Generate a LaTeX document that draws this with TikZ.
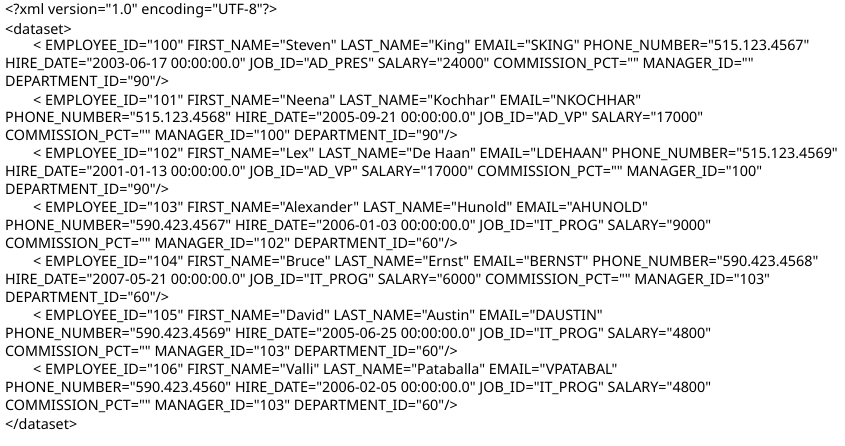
\documentclass[tikz,border=0pt]{standalone}
\usepackage{fontspec}
\setmainfont{Noto Sans}[Ligatures=TeXOff]
\begin{document}
\begin{tikzpicture}[x=1pt,y=-1pt,ln/.style={anchor=west,inner sep=0pt,font=\fontsize{14.35}{16}\selectfont}]
\useasboundingbox[fill=white] (0,0) rectangle (845,446);
\def\L#1#2#3{\node[ln] (n#1) at (#2,{11+17.96*#1}) {#3};}
\L{0}{5}{<?xml version="1.0" encoding="UTF-8"?>}
\L{1}{5}{<dataset>}
\L{2}{33}{< EMPLOYEE\_ID="100" FIRST\_NAME="Steven" LAST\_NAME="King" EMAIL="SKING" PHONE\_NUMBER="515.123.4567"}
\L{3}{5}{HIRE\_DATE="2003-06-17 00:00:00.0" JOB\_ID="AD\_PRES" SALARY="24000" COMMISSION\_PCT="" MANAGER\_ID=""}
\L{4}{5}{DEPARTMENT\_ID="90"/>}
\L{5}{33}{< EMPLOYEE\_ID="101" FIRST\_NAME="Neena" LAST\_NAME="Kochhar" EMAIL="NKOCHHAR"}
\L{6}{5}{PHONE\_NUMBER="515.123.4568" HIRE\_DATE="2005-09-21 00:00:00.0" JOB\_ID="AD\_VP" SALARY="17000"}
\L{7}{5}{COMMISSION\_PCT="" MANAGER\_ID="100" DEPARTMENT\_ID="90"/>}
\L{8}{33}{< EMPLOYEE\_ID="102" FIRST\_NAME="Lex" LAST\_NAME="De Haan" EMAIL="LDEHAAN" PHONE\_NUMBER="515.123.4569"}
\L{9}{5}{HIRE\_DATE="2001-01-13 00:00:00.0" JOB\_ID="AD\_VP" SALARY="17000" COMMISSION\_PCT="" MANAGER\_ID="100"}
\L{10}{5}{DEPARTMENT\_ID="90"/>}
\L{11}{33}{< EMPLOYEE\_ID="103" FIRST\_NAME="Alexander" LAST\_NAME="Hunold" EMAIL="AHUNOLD"}
\L{12}{5}{PHONE\_NUMBER="590.423.4567" HIRE\_DATE="2006-01-03 00:00:00.0" JOB\_ID="IT\_PROG" SALARY="9000"}
\L{13}{5}{COMMISSION\_PCT="" MANAGER\_ID="102" DEPARTMENT\_ID="60"/>}
\L{14}{33}{< EMPLOYEE\_ID="104" FIRST\_NAME="Bruce" LAST\_NAME="Ernst" EMAIL="BERNST" PHONE\_NUMBER="590.423.4568"}
\L{15}{5}{HIRE\_DATE="2007-05-21 00:00:00.0" JOB\_ID="IT\_PROG" SALARY="6000" COMMISSION\_PCT="" MANAGER\_ID="103"}
\L{16}{5}{DEPARTMENT\_ID="60"/>}
\L{17}{33}{< EMPLOYEE\_ID="105" FIRST\_NAME="David" LAST\_NAME="Austin" EMAIL="DAUSTIN"}
\L{18}{5}{PHONE\_NUMBER="590.423.4569" HIRE\_DATE="2005-06-25 00:00:00.0" JOB\_ID="IT\_PROG" SALARY="4800"}
\L{19}{5}{COMMISSION\_PCT="" MANAGER\_ID="103" DEPARTMENT\_ID="60"/>}
\L{20}{33}{< EMPLOYEE\_ID="106" FIRST\_NAME="Valli" LAST\_NAME="Pataballa" EMAIL="VPATABAL"}
\L{21}{5}{PHONE\_NUMBER="590.423.4560" HIRE\_DATE="2006-02-05 00:00:00.0" JOB\_ID="IT\_PROG" SALARY="4800"}
\L{22}{5}{COMMISSION\_PCT="" MANAGER\_ID="103" DEPARTMENT\_ID="60"/>}
\L{23}{5}{</dataset>}
\end{tikzpicture}
\end{document}
